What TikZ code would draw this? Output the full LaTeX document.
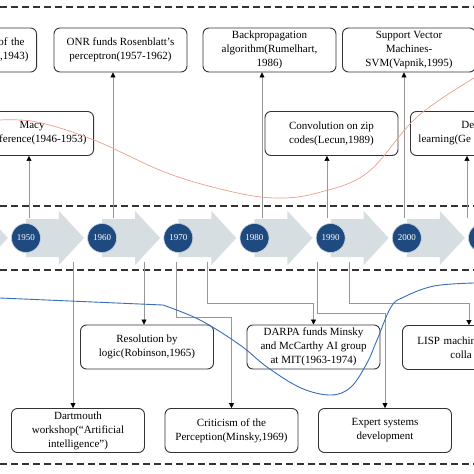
\documentclass[tikz,border=0pt]{standalone}
\usepackage{fontspec}
\setmainfont{Liberation Serif}
\usepackage{xcolor}
\usetikzlibrary{arrows.meta}
\definecolor{timelineNavy}{RGB}{30, 74, 128}
\definecolor{timelineArrow}{RGB}{214, 222, 226}
\definecolor{boomRed}{RGB}{238, 158, 142}
\definecolor{winterBlue}{RGB}{58, 110, 184}
\definecolor{linkGray}{RGB}{150, 150, 150}

\tikzset{
  event/.style={draw=black!80, line width=0.9pt, rounded corners=6pt, fill=white,
    minimum width=133pt, minimum height=44pt, align=center, inner sep=3pt,
    font=\fontsize{11}{14}\selectfont},
  yearnode/.style={circle, fill=timelineNavy, draw=white!75!timelineNavy, line width=0.6pt,
    minimum size=29pt, inner sep=0pt, text=white, font=\fontsize{9}{10}\selectfont},
  link/.style={draw=linkGray, line width=0.7pt, -{Triangle[length=5pt,width=5pt,color=black]}},
  divider/.style={black!80, line width=1.3pt, dash pattern=on 7pt off 4pt},
}

\begin{document}
\begin{tikzpicture}[x=1pt, y=-1pt]
            \useasboundingbox (0,0) rectangle (474,474);
            \fill[white] (0,0) rectangle (474,474);
            \clip (0,0) rectangle (474,474);

            % Dividers
            \draw[divider] (0,7) -- (474,7);
            \draw[divider] (0,206) -- (474,206);
            \draw[divider] (0,270) -- (474,270);
            \draw[divider] (0,464) -- (474,464);

            % Timeline arrows
            \foreach \i in {0,...,7} {
                \pgfmathsetmacro{\c}{-50.2+76.17*\i}
                \fill[timelineArrow] (\c,219) -- (\c+33,219) -- (\c+33,211) -- (\c+58,238)
                    -- (\c+33,265) -- (\c+33,257) -- (\c,257) -- cycle;
            }

            % Years
            \foreach \i/\yr in {1/1950, 2/1960, 3/1970, 4/1980, 5/1990, 6/2000} {
                \pgfmathsetmacro{\c}{-50.2+76.17*\i}
                \node[yearnode] (y\yr) at (\c,238) {\yr};
            }
            \node[yearnode] (y2010) at (483,238) {};

            % Upper events
            \node[event, anchor=east, text width=117pt, align=right] (pitts) at (37,50) {of the\kern4pt\\,1943)};
            \node[event] (onr) at (120.5,50) {ONR funds Rosenblatt's\\perceptron(1957-1962)};
            \node[event] (backprop) at (269.5,50) {Backpropagation\\algorithm(Rumelhart,\\1986)};
            \node[event] (svm) at (409,50) {Support Vector\\Machines-\\SVM(Vapnik,1995)};
            \node[event, anchor=east, text width=119pt, align=right] (macy) at (94,133.5) {Macy\kern42pt\\Conference(1946-1953)};
            \node[event] (conv) at (331.5,133.5) {Convolution on zip\\codes(Lecun,1989)};
            \node[event, anchor=west, text width=117pt, align=left] (deep) at (410,133.5) {\hspace*{43pt}De\\learning(Ge};

            % Lower events
            \node[event] (resol) at (147,347) {Resolution by\\logic(Robinson,1965)};
            \node[event] (darpa) at (313.5,347) {DARPA funds Minsky\\and McCarthy AI group\\at MIT(1963-1974)};
            \node[event, anchor=west, text width=117pt, align=left] (lisp) at (402,347.5) {\hspace*{7pt}LISP machin\\\hspace*{40pt}colla};
            \node[event] (dartmouth) at (78,430.5) {Dartmouth\\workshop(``Artificial\\intelligence'')};
            \node[event] (critic) at (231.5,430.5) {Criticism of the\\Perception(Minsky,1969)};
            \node[event] (expert) at (385,430.5) {Expert systems\\development};

            % Links up
            \coordinate (u1) at (29,218);
            \coordinate (u2) at (113,218);
            \coordinate (u3) at (262,218);
            \coordinate (u4) at (327,218);
            \coordinate (u5) at (404,218);
            \coordinate (u6) at (467,218);
            \draw[link] (u1) -- (u1 |- macy.south);
            \draw[link] (u2) -- (u2 |- onr.south);
            \draw[link] (u3) -- (u3 |- backprop.south);
            \draw[link] (u4) -- (u4 |- conv.south);
            \draw[link] (u5) -- (u5 |- svm.south);
            \draw[link] (u6) -- (u6 |- deep.south);

            % Links down
            \coordinate (d1) at (73,262);
            \coordinate (d2) at (144,262);
            \coordinate (d3) at (176,262);
            \coordinate (d4) at (207,262);
            \coordinate (d5) at (317,262);
            \coordinate (d6) at (349,262);
            \draw[link] (d1) -- (d1 |- dartmouth.north);
            \draw[link] (d2) -- (d2 |- resol.north);
            \draw[link] (d3) -- (d3 |- 0,317) -| (critic.north);
            \draw[link] (d4) -- (d4 |- 0,303) -| (darpa.north);
            \draw[link] (d5) -- (d5 |- 0,313) -| (expert.north);
            \draw[link] (d6) -- (d6 |- 0,303) -| (lisp.north);

            % Trend curves
            \draw[boomRed, line width=0.7pt] plot[smooth, tension=0.6] coordinates {(0,120) (37,122) (94,140) (167,173) (233,192) (277,198) (317,193) (367,173) (417,117) (474,78)};
            \draw[winterBlue, line width=0.9pt] (0,298) -- (163,305) plot[smooth, tension=0.6] coordinates {(163,305) (200,320) (240,345) (267,367) (301,388) (331,395) (351,387) (367,363) (377,340) (391,307) (404,297) (434,286) (474,283)};
\end{tikzpicture}
\end{document}
